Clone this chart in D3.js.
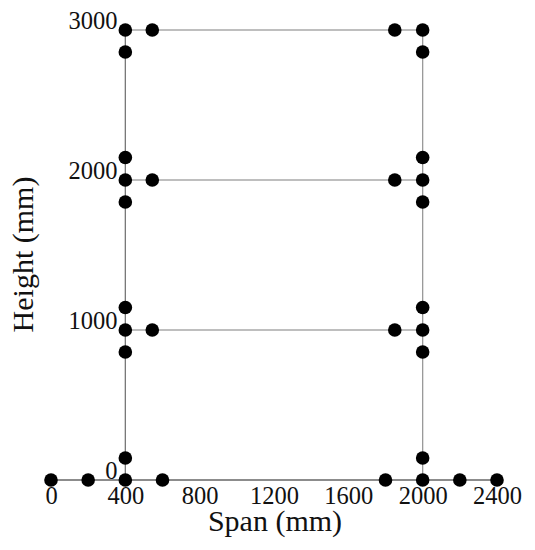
<!DOCTYPE html>
<html><head><meta charset="utf-8">
<script src="https://cdn.jsdelivr.net/npm/d3@7"></script>
<style>html,body{margin:0;padding:0;background:#fff}svg{display:block}text{font-family:"Liberation Serif",serif;fill:#111}</style>
</head><body><div id="c"></div>
<script>
const xTicks=[0,400,800,1200,1600,2000,2400];
const yTicks=[0,1000,2000,3000];
const baseX=[0,200,400,600,1800,2000,2200,2400];
const columnX=[400,2000];
const columnY=[147,853,1000,1150,1853,2000,2150,2853,3000];
const floorY=[1000,2000,3000];
const beamX=[545,1850];
const xDomain=[0,2400], yDomain=[0,3000];
const xLabel="Span (mm)", yLabel="Height (mm)";

const svg=d3.select("#c").append("svg").attr("width",535).attr("height",550);
const x=d3.scaleLinear().domain(xDomain).range([51,497]);
const y=d3.scaleLinear().domain(yDomain).range([480,30]);

const g=svg.append("g");
g.selectAll(".floor").data(floorY).join("line")
 .attr("x1",x(columnX[0])).attr("x2",x(columnX[1]))
 .attr("y1",d=>y(d)).attr("y2",d=>y(d)).attr("stroke","#a8a8a8").attr("stroke-width",1.3);
g.append("line").attr("x1",x(xDomain[0])).attr("x2",x(xDomain[1])).attr("y1",y(0)).attr("y2",y(0))
 .attr("stroke","#666").attr("stroke-width",1.5);
g.selectAll(".col").data(columnX).join("line")
 .attr("x1",d=>x(d)).attr("x2",d=>x(d)).attr("y1",y(0)).attr("y2",y(3000))
 .attr("stroke",(d,i)=>i==0?"#777":"#999").attr("stroke-width",1.3);

const ax=svg.append("g").attr("transform",`translate(0,${y(0)})`)
 .call(d3.axisBottom(x).tickValues(xTicks).tickFormat(d3.format("d")).tickSize(0).tickPadding(0));
ax.select(".domain").remove();
ax.selectAll("text").attr("font-size",24.5).attr("y",7).attr("dy","0.71em")
  .style("font-family",'"Liberation Serif",serif').attr("fill","#111");
const ay=svg.append("g").attr("transform",`translate(117.5,0)`)
 .call(d3.axisLeft(y).tickValues(yTicks).tickFormat(d3.format("d")).tickSize(0).tickPadding(0));
ay.select(".domain").remove();
ay.selectAll("text").attr("font-size",24.5).attr("dy","-0.08em")
  .style("font-family",'"Liberation Serif",serif').attr("fill","#111");

const pts=[];
baseX.forEach(v=>pts.push([v,0]));
columnX.forEach(c=>columnY.forEach(v=>pts.push([c,v])));
floorY.forEach(f=>beamX.forEach(b=>pts.push([b,f])));
g.raise();
g.selectAll("circle").data(pts).join("circle")
 .attr("cx",d=>x(d[0])).attr("cy",d=>y(d[1])).attr("r",6.8).attr("fill","#000");

svg.append("text").attr("x",275).attr("y",531).attr("text-anchor","middle").attr("font-size",30).text(xLabel);
svg.append("text").attr("transform","translate(33,254.5) rotate(-90)").attr("text-anchor","middle").attr("font-size",30).text(yLabel);
</script></body></html>
